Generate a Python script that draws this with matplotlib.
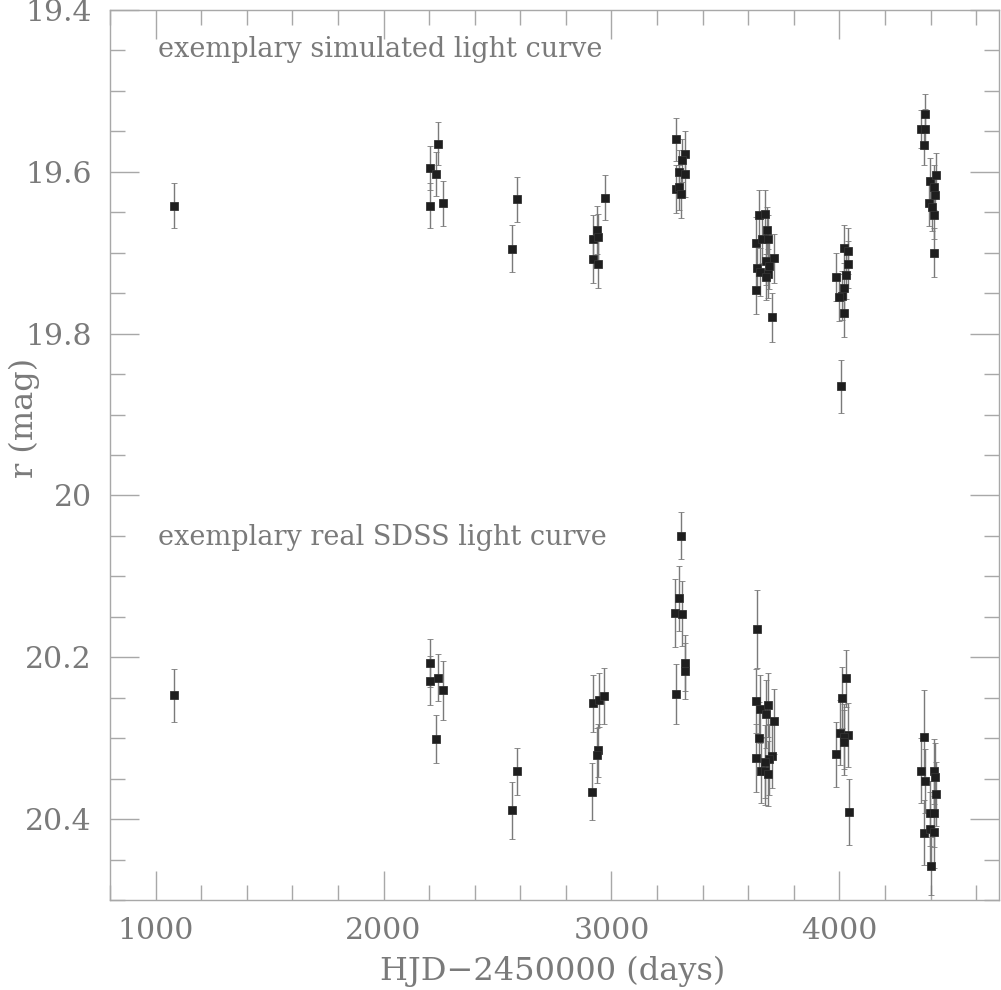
import matplotlib
matplotlib.use("Agg")
import matplotlib.pyplot as plt
from matplotlib.ticker import MultipleLocator, FuncFormatter

# ---- data: simulated light curve ----
sim_t = [1079, 2202, 2237, 2231, 2203, 2259, 2563, 2585,
         2918, 2938, 2942, 2919, 2942, 2970,
         3281, 3323, 3310, 3295, 3322, 3281, 3294, 3304,
         3647, 3673, 3683, 3634, 3660, 3686, 3712, 3679, 3692, 3638, 3650, 3686, 3680, 3635, 3705,
         4018, 4039, 4037, 3984, 4030, 4020, 4011, 3998, 4021, 4008,
         4377, 4360, 4374, 4369, 4398, 4424, 4414, 4418, 4393, 4404, 4417, 4415]
sim_r = [19.642, 19.595, 19.565, 19.603, 19.642, 19.639, 19.695, 19.634,
         19.683, 19.672, 19.681, 19.708, 19.714, 19.632,
         19.560, 19.578, 19.586, 19.600, 19.603, 19.621, 19.619, 19.628,
         19.653, 19.652, 19.672, 19.688, 19.683, 19.683, 19.707, 19.710, 19.716, 19.719, 19.724, 19.726, 19.730, 19.746, 19.780,
         19.694, 19.698, 19.714, 19.730, 19.728, 19.743, 19.753, 19.755, 19.774, 19.865,
         19.528, 19.547, 19.547, 19.567, 19.611, 19.604, 19.619, 19.629, 19.638, 19.643, 19.653, 19.700]
sim_err = [0.028, 0.027, 0.026, 0.027, 0.028, 0.028, 0.029, 0.028,
           0.030, 0.030, 0.029, 0.030, 0.030, 0.028,
           0.027, 0.028, 0.027, 0.027, 0.028, 0.030, 0.028, 0.029,
           0.030, 0.030, 0.029, 0.032, 0.030, 0.030, 0.030, 0.030, 0.029, 0.031, 0.030, 0.030, 0.029, 0.030, 0.030,
           0.028, 0.028, 0.029, 0.030, 0.029, 0.030, 0.030, 0.029, 0.030, 0.033,
           0.024, 0.024, 0.025, 0.025, 0.028, 0.027, 0.028, 0.028, 0.029, 0.030, 0.030, 0.030]

# ---- data: real SDSS light curve ----
real_t = [1079, 2203, 2203, 2237, 2259, 2231, 2563, 2585,
          2919, 2944, 2969, 2942, 2938, 2916,
          3303, 3294, 3278, 3309, 3322, 3322, 3281,
          3638, 3634, 3650, 3685, 3678, 3714, 3647, 3636, 3702, 3692, 3674, 3655, 3675, 3687,
          4030, 4011, 4001, 4037, 4018, 4018, 3984, 4041,
          4371, 4359, 4375, 4416, 4418, 4425, 4396, 4415, 4369, 4398, 4417, 4400]
real_r = [20.247, 20.207, 20.229, 20.225, 20.241, 20.301, 20.389, 20.341,
          20.257, 20.253, 20.248, 20.315, 20.321, 20.366,
          20.050, 20.127, 20.145, 20.146, 20.207, 20.217, 20.245,
          20.165, 20.254, 20.264, 20.259, 20.270, 20.279, 20.300, 20.324, 20.322, 20.326, 20.329, 20.340, 20.340, 20.344,
          20.226, 20.250, 20.293, 20.296, 20.298, 20.305, 20.320, 20.391,
          20.298, 20.340, 20.353, 20.341, 20.348, 20.369, 20.393, 20.393, 20.417, 20.412, 20.416, 20.458]
real_err = [0.033, 0.030, 0.030, 0.029, 0.036, 0.030, 0.035, 0.029,
            0.035, 0.033, 0.035, 0.033, 0.034, 0.035,
            0.029, 0.040, 0.042, 0.040, 0.035, 0.035, 0.037,
            0.048, 0.040, 0.042, 0.040, 0.042, 0.040, 0.045, 0.042, 0.040, 0.044, 0.045, 0.040, 0.042, 0.040,
            0.035, 0.038, 0.040, 0.040, 0.040, 0.040, 0.040, 0.041,
            0.057, 0.040, 0.040, 0.040, 0.042, 0.040, 0.040, 0.042, 0.040, 0.045, 0.045, 0.036]

labels = ["exemplary simulated light curve", "exemplary real SDSS light curve"]

gray = "#7a7a7a"
spine_gray = "#a8a8a8"
font = "DejaVu Serif"

fig = plt.figure(figsize=(10.01, 9.90), dpi=100)
ax = fig.add_axes([110 / 1001, 1 - 900 / 990, 889 / 1001, 890 / 990])

for t, r, e in ((sim_t, sim_r, sim_err), (real_t, real_r, real_err)):
    ax.errorbar(t, r, yerr=e, fmt="s", color="#1e1e1e", ms=5.8, mec="#333333",
                mew=0.6, ecolor="#7a7a7a", elinewidth=1.0, capsize=2.5,
                capthick=0.9, zorder=3)

ax.set_xlim(800, 4700)
ax.set_ylim(20.5, 19.4)

ax.xaxis.set_major_locator(MultipleLocator(1000))
ax.xaxis.set_minor_locator(MultipleLocator(200))
ax.yaxis.set_major_locator(MultipleLocator(0.2))
ax.yaxis.set_minor_locator(MultipleLocator(0.05))
ax.yaxis.set_major_formatter(FuncFormatter(
    lambda v, p: "%d" % round(v) if abs(v - round(v)) < 1e-6 else "%.1f" % v))

ax.tick_params(which="both", direction="in", top=True, right=True,
               color=spine_gray, width=1.0, labelcolor=gray)
ax.tick_params(which="major", length=21, labelsize=21.5)
ax.tick_params(which="minor", length=10.5)
ax.tick_params(axis="y", which="major", pad=13)
ax.tick_params(axis="x", which="major", pad=12)
for s in ax.spines.values():
    s.set_color(spine_gray)
    s.set_linewidth(1.0)
for lab in ax.get_xticklabels() + ax.get_yticklabels():
    lab.set_family(font)

ax.set_xlabel("HJD\u22122450000 (days)", fontsize=23, color=gray, family=font)
ax.xaxis.set_label_coords((553 - 110) / 889, -(956 - 900) / 890)
ax.set_ylabel("r (mag)", fontsize=23, color=gray, family=font)
ax.yaxis.set_label_coords(-(110 - 40) / 889, (900 - 418) / 890)

ax.text(1010, 19.449, labels[0], fontsize=19.5, color=gray, family=font, va="center", ha="left")
ax.text(1010, 20.052, labels[1], fontsize=19.5, color=gray, family=font, va="center", ha="left")

fig.savefig("out.png", dpi=100)
